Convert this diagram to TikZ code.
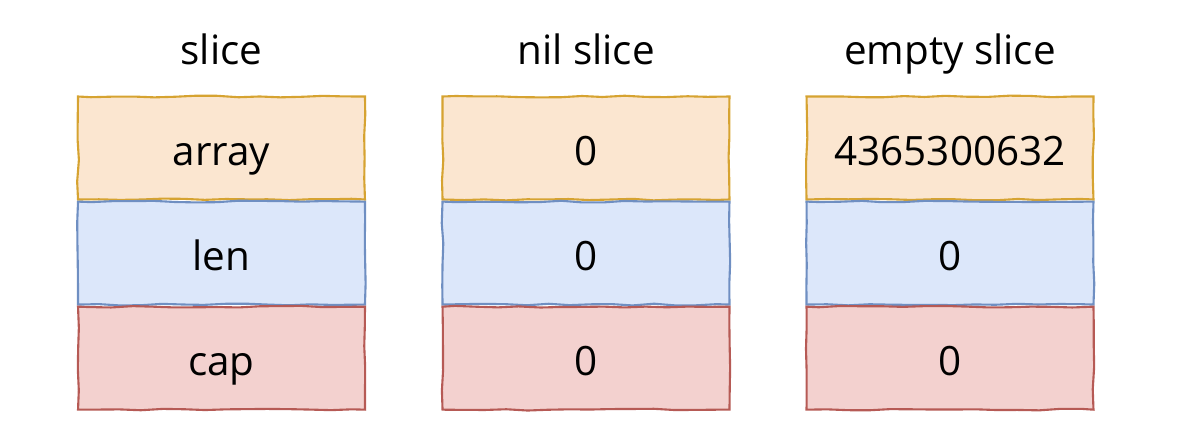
\documentclass[tikz,border=0pt]{standalone}
\usepackage{fontspec}
\setmainfont{Open Sans}
\usetikzlibrary{positioning,decorations.pathmorphing}
\definecolor{arrfill}{HTML}{FBE6D0}
\definecolor{arrline}{HTML}{D6A331}
\definecolor{lenfill}{HTML}{DCE7FA}
\definecolor{lenline}{HTML}{6F8FC2}
\definecolor{capfill}{HTML}{F3D1CF}
\definecolor{capline}{HTML}{B65A55}
\begin{document}
\begin{tikzpicture}[x=0.02cm, y=-0.02cm,
        cell/.style={minimum width=5.74cm, minimum height=2.06cm, inner sep=0pt,
            text height=20pt, text depth=0pt,
            line width=1.2pt, font=\fontsize{23}{28}\selectfont,
            decorate, decoration={random steps, segment length=12pt, amplitude=0.5pt}},
        arraycell/.style={cell, draw=arrline, fill=arrfill},
        lencell/.style={cell, draw=lenline, fill=lenfill},
        capcell/.style={cell, draw=capline, fill=capfill},
        title/.style={font=\fontsize{23}{28}\selectfont, text height=20pt, text depth=0pt}]
        \pgfmathsetseed{7}
        \useasboundingbox (0,0) rectangle (1192,446);
        % slice
        \node[title] (t1) at (221.5,47) {slice};
        \node[arraycell] (a1) at (221.5,148) {array};
        \node[lencell, below=0pt of a1] (l1) {len};
        \node[capcell, below=0pt of l1] (c1) {cap};
        % nil slice
        \node[title] (t2) at (586,47) {nil slice};
        \node[arraycell] (a2) at (586,148) {0};
        \node[lencell, below=0pt of a2] (l2) {0};
        \node[capcell, below=0pt of l2] (c2) {0};
        % empty slice
        \node[title] (t3) at (950,47) {empty slice};
        \node[arraycell] (a3) at (950,148) {4365300632};
        \node[lencell, below=0pt of a3] (l3) {0};
        \node[capcell, below=0pt of l3] (c3) {0};
    \end{tikzpicture}
\end{document}
